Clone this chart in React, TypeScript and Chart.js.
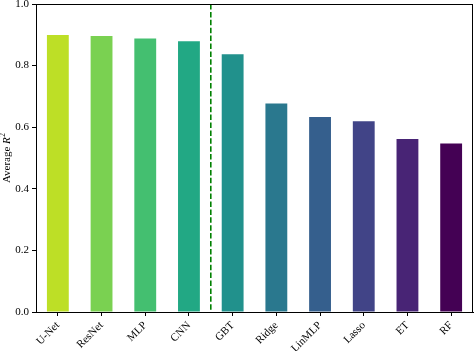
import React, { useEffect, useRef } from "react";
import { Chart, registerables } from "chart.js";

Chart.register(...registerables);

const categories = ["U-Net", "ResNet", "MLP", "CNN", "GBT", "Ridge", "LinMLP", "Lasso", "ET", "RF"];
const r2Values = [0.899, 0.896, 0.888, 0.879, 0.837, 0.677, 0.633, 0.619, 0.562, 0.547];
const barColors = [
  "#bddf26", "#7ad151", "#44bf70", "#22a884", "#21918c",
  "#2a788e", "#355f8d", "#414487", "#482475", "#440154",
];
const yTickValues = [0.0, 0.2, 0.4, 0.6, 0.8, 1.0];
const dividerBetween = ["CNN", "GBT"];
const yTitleParts = ["Average ", "R", "2"];

const FONT = "'Liberation Serif', 'DejaVu Serif', serif";

const decorPlugin = {
  id: "decor",
  afterDraw(chart: any) {
    const { ctx, chartArea, scales } = chart;
    const { left, right, top, bottom } = chartArea;
    ctx.save();
    // dashed divider
    const i0 = categories.indexOf(dividerBetween[0]);
    const i1 = categories.indexOf(dividerBetween[1]);
    const x = (scales.x.getPixelForValue(i0) + scales.x.getPixelForValue(i1)) / 2;
    ctx.strokeStyle = "#008000";
    ctx.lineWidth = 1.6;
    ctx.setLineDash([5.5, 2.4]);
    ctx.beginPath();
    ctx.moveTo(x, top);
    ctx.lineTo(x, bottom);
    ctx.stroke();
    ctx.setLineDash([]);
    // frame
    ctx.strokeStyle = "#000";
    ctx.lineWidth = 1;
    ctx.strokeRect(Math.round(left) + 0.5, Math.round(top) + 0.5, Math.round(right - left) - 1, Math.round(bottom - top));
    // y title with italic R and superscript 2
    const cy = (top + bottom) / 2;
    ctx.translate(7, cy);
    ctx.rotate(-Math.PI / 2);
    ctx.textBaseline = "middle";
    ctx.fillStyle = "#000";
    const f1 = `11px ${FONT}`;
    const f2 = `italic 11px ${FONT}`;
    const f3 = `7.5px ${FONT}`;
    ctx.font = f1; const w1 = ctx.measureText(yTitleParts[0]).width;
    ctx.font = f2; const w2 = ctx.measureText(yTitleParts[1]).width;
    ctx.font = f3; const w3 = ctx.measureText(yTitleParts[2]).width;
    const total = w1 + w2 + w3 + 0.5;
    let px = -total / 2;
    ctx.textAlign = "left";
    ctx.font = f1; ctx.fillText(yTitleParts[0], px, 0); px += w1;
    ctx.font = f2; ctx.fillText(yTitleParts[1], px, 0); px += w2 + 0.5;
    ctx.font = f3; ctx.fillText(yTitleParts[2], px, -4);
    ctx.restore();
  },
};

export default function App() {
  const ref = useRef<HTMLCanvasElement | null>(null);
  useEffect(() => {
    document.body.style.margin = "0";
    const chart = new Chart(ref.current!, {
      type: "bar",
      data: {
        labels: categories,
        datasets: [
          {
            data: r2Values,
            backgroundColor: barColors,
            borderWidth: 0,
            barPercentage: 0.5,
            categoryPercentage: 1.0,
          },
        ],
      },
      plugins: [decorPlugin],
      options: {
        animation: false,
        responsive: false,
        maintainAspectRatio: false,
        layout: { padding: { top: 4, right: 1, left: 0, bottom: 0 } },
        plugins: { legend: { display: false }, tooltip: { enabled: false } },
        scales: {
          x: {
            offset: true,
            grid: { drawOnChartArea: false, drawTicks: true, tickLength: 4, color: "#000", offset: false },
            border: { display: true, color: "#000", width: 1 },
            ticks: {
              autoSkip: false,
              minRotation: 45,
              maxRotation: 45,
              padding: 3,
              color: "#000",
              font: { family: FONT, size: 11 },
            },
            afterFit(scale: any) {
              scale.height = 39;
              scale.paddingLeft = 0;
              scale.paddingRight = 0;
            },
          },
          y: {
            min: 0,
            max: 1,
            afterBuildTicks(scale: any) { scale.ticks = yTickValues.map((v) => ({ value: v })); },
            grid: { drawOnChartArea: false, drawTicks: true, tickLength: 4, color: "#000" },
            border: { display: true, color: "#000", width: 1 },
            ticks: {
              padding: 3,
              color: "#000",
              font: { family: FONT, size: 11 },
              callback: (v: any) => Number(v).toFixed(1),
            },
            afterFit(scale: any) {
              scale.width = 36;
              scale.paddingTop = 0;
              scale.paddingBottom = 0;
            },
          },
        },
      },
    });
    return () => chart.destroy();
  }, []);
  return (
    <div style={{ position: "absolute", left: 0, top: 0, width: 474, height: 351 }}>
      <canvas ref={ref} width={474} height={351} style={{ width: 474, height: 351 }} />
    </div>
  );
}
